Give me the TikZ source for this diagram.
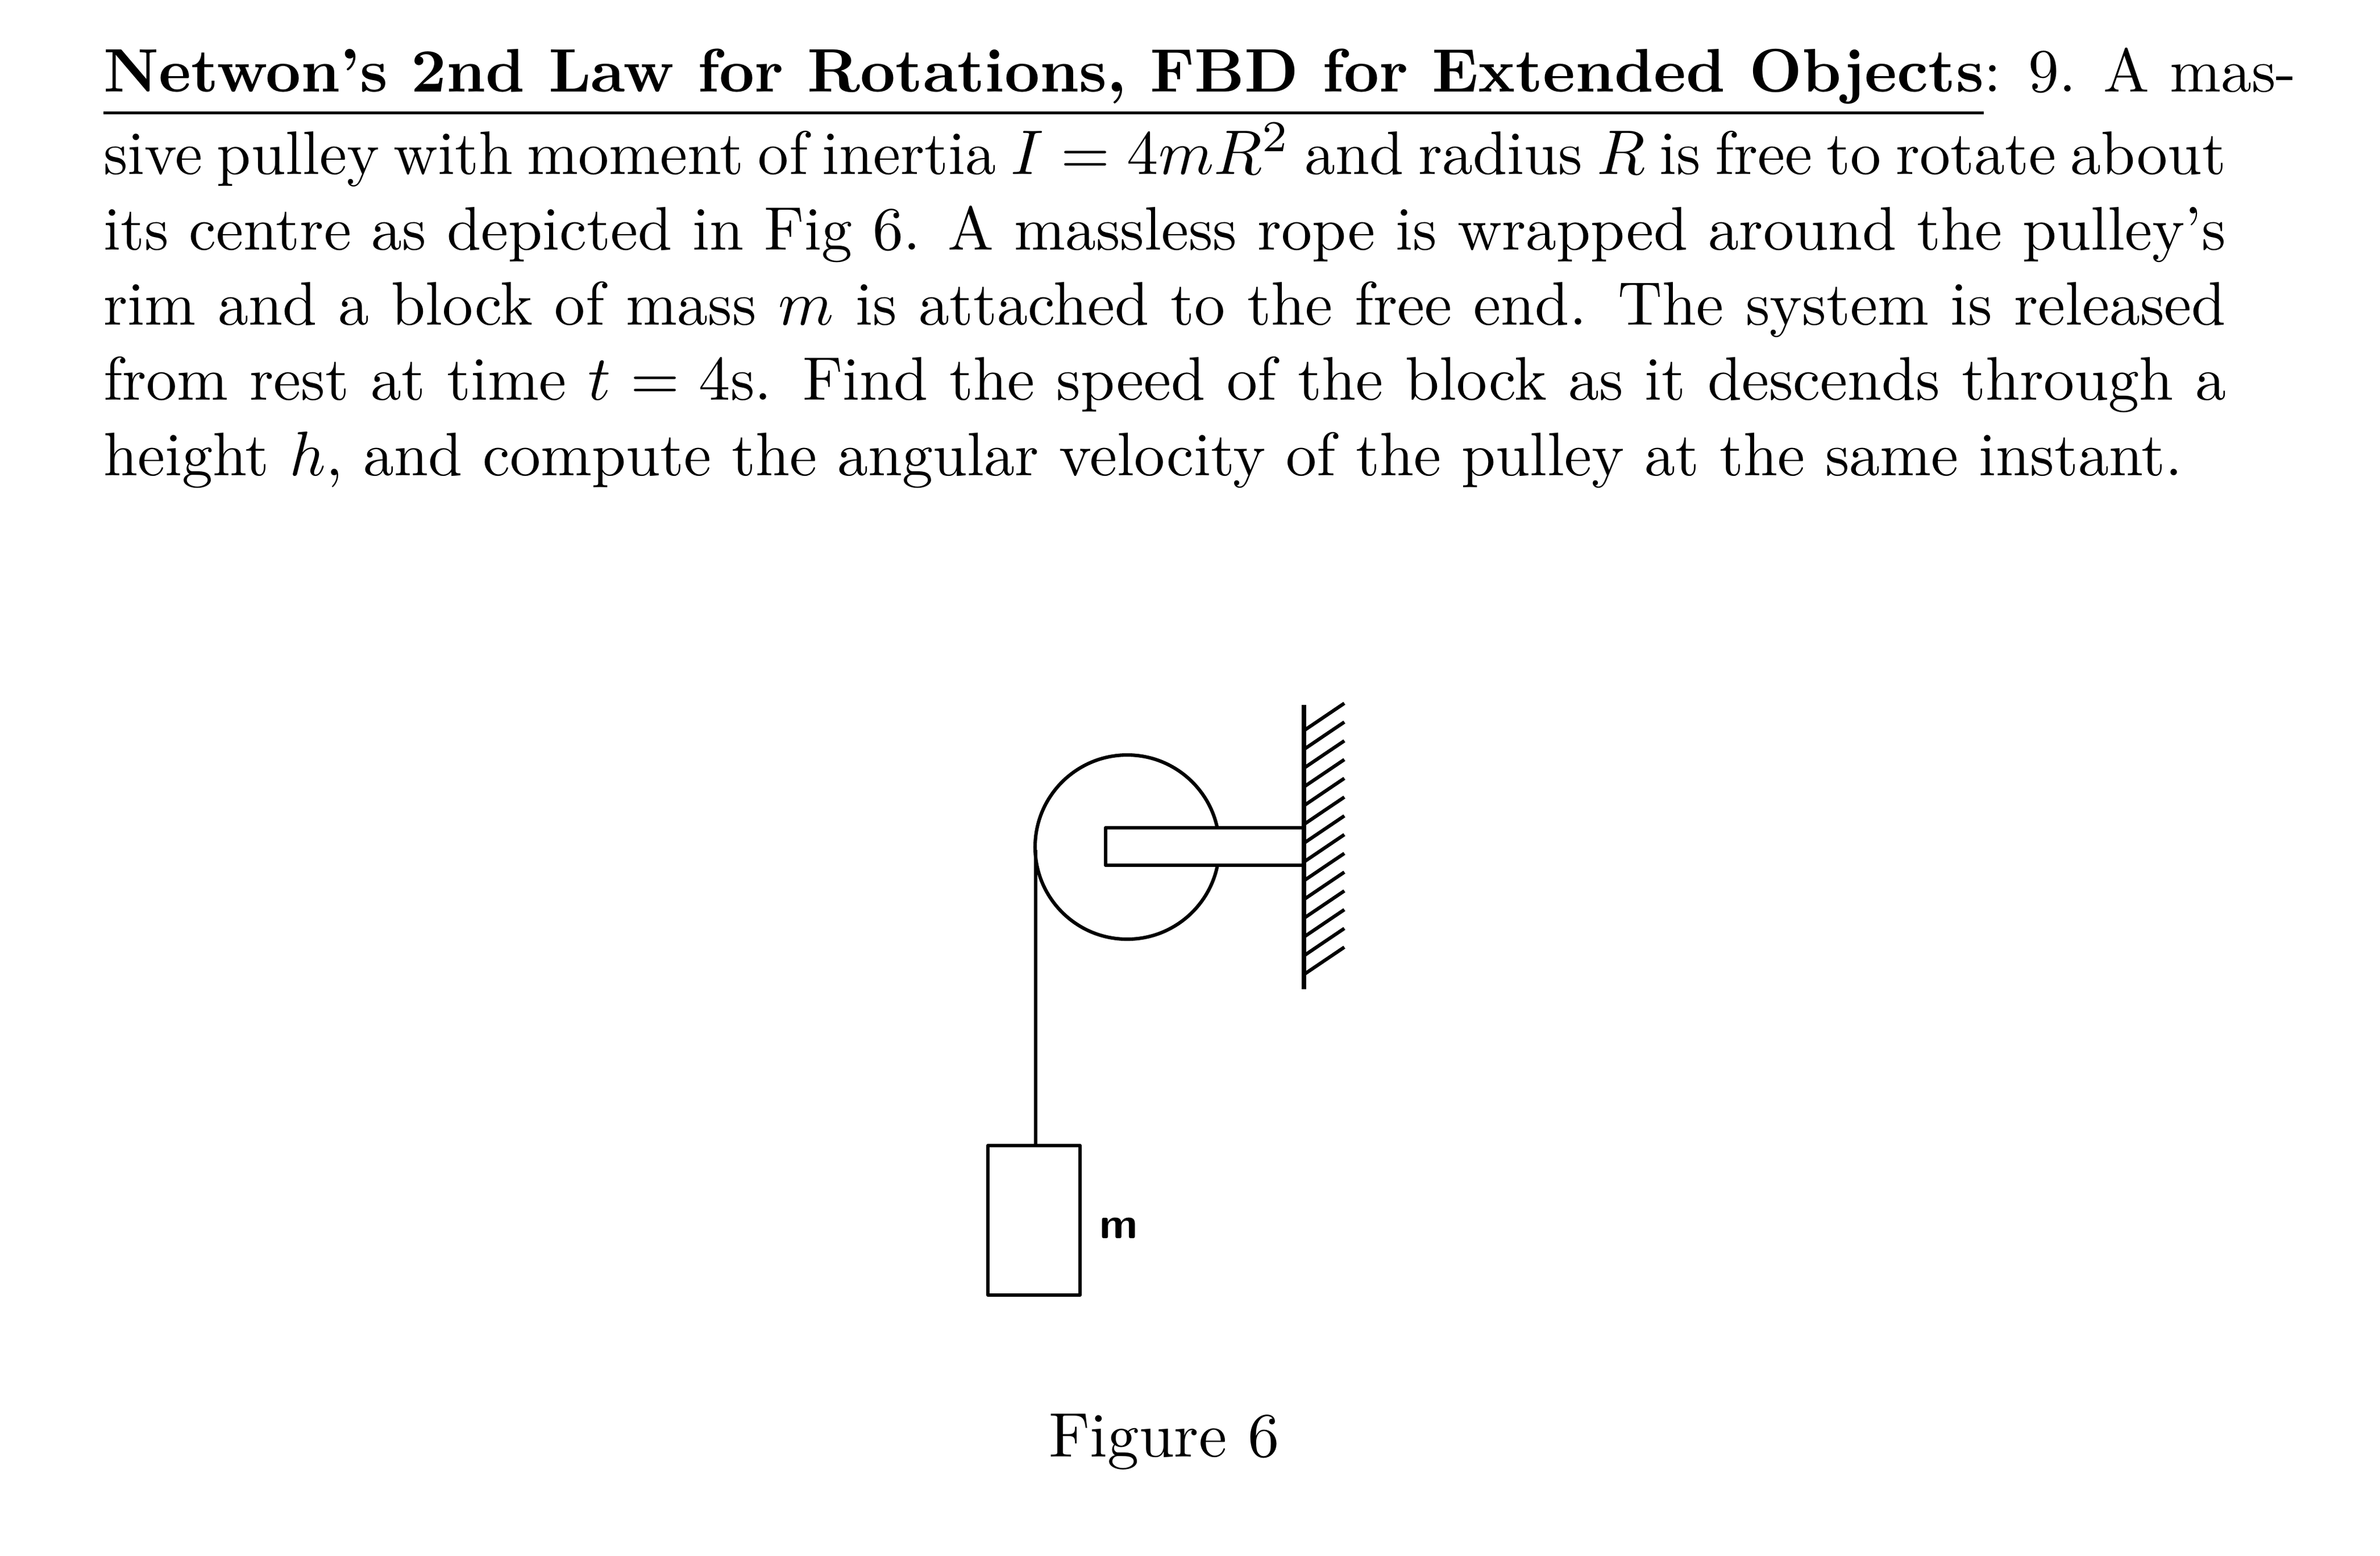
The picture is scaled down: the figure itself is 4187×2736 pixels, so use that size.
\documentclass[tikz,border=0pt]{standalone}
\usepackage{amsmath}
\begin{document}
\begin{tikzpicture}[x=0.09025pt,y=-0.09025pt,fig/.style={line width=0.55pt,line join=round}]
\useasboundingbox (0,0) rectangle (4187,2736);
\node[anchor=north west,inner sep=0pt,text width=337pt,align=justify,font=\fontsize{9.75}{11.95}\selectfont] (txt) at (180,82)
{\hbadness=10000\hfuzz=50pt\noindent\makebox[\linewidth][l]{\underline{\textbf{Netwon's 2nd Law for Rotations, FBD for Extended Objects}}: 9. A mas-}\par\noindent sive pulley with moment of inertia $I=4mR^2$ and radius $R$ is free to rotate about\break its centre as depicted in Fig 6. A massless rope is wrapped around the pulley's\break rim and a block of mass $m$ is attached to the free end. The system is released\break from rest at time $t=4$s. Find the speed of the block as it descends through a\break height $h$, and compute the angular velocity of the pulley at the same instant.\par};
% pulley
\coordinate (c) at (1983,1490);
\draw[fig] (c) circle [radius=162];
\fill[white] (1945,1456) rectangle (2294,1522);
\draw[fig] (2294,1456) -- (1945,1456) -- (1945,1522) -- (2294,1522);
% wall
\coordinate (wt) at (2294,1240);
\coordinate (wb) at (2294,1740);
\draw[line width=0.8pt] (wt) -- (wb);
\foreach \i in {0,...,13} \draw[fig] (2294,1285+\i*33) -- (2365,1237+\i*33);
% rope and block
\draw[fig] (1738,2015) rectangle (1900,2278);
\coordinate (bt) at (1822,2015);
\coordinate (rt) at (1822,1495);
\draw[fig] (rt) -- (bt);
\node[font=\sffamily\bfseries\fontsize{7}{8}\selectfont,inner sep=0pt] (ml) at (1968,2160) {m};
\node[font=\fontsize{10}{12}\selectfont,inner sep=0pt,anchor=base] (cap) at (2048,2562) {Figure 6};
\end{tikzpicture}
\end{document}
